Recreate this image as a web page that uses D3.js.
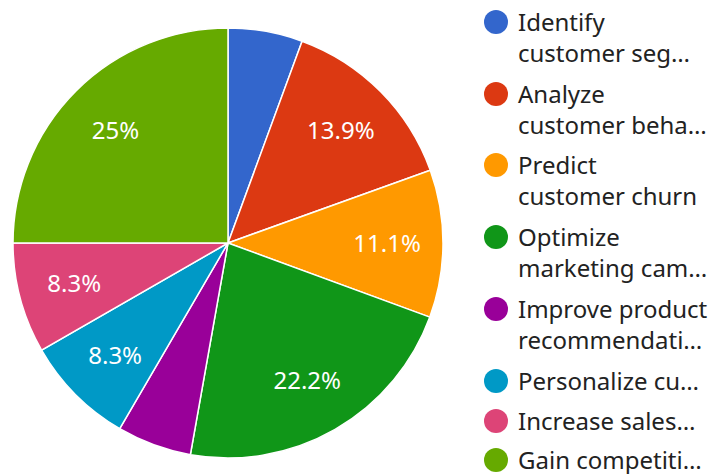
<!DOCTYPE html>
<html>
<head>
<meta charset="utf-8">
<script src="https://d3js.org/d3.v7.min.js"></script>
<style>
  body { margin: 0; background: #fff; }
  text { font-family: "Noto Sans", sans-serif; }
</style>
</head>
<body>
<svg id="chart" width="713" height="474"></svg>
<script>
// slice data (percent of responses)
var categories = [
  ["Identify", "customer seg\u2026"],
  ["Analyze", "customer beha\u2026"],
  ["Predict", "customer churn"],
  ["Optimize", "marketing cam\u2026"],
  ["Improve product", "recommendati\u2026"],
  ["Personalize cu\u2026"],
  ["Increase sales\u2026"],
  ["Gain competiti\u2026"]
];
var values = [5.6, 13.9, 11.1, 22.2, 5.6, 8.3, 8.3, 25];
var colors = ["#3366cc", "#dc3912", "#ff9900", "#109618", "#990099", "#0099c6", "#dd4477", "#66aa00"];

var svg = d3.select("#chart");
var cx = 228, cy = 243, radius = 215;

var pie = d3.pie().value(function(d) { return d; }).sort(null);
var arc = d3.arc().innerRadius(0).outerRadius(radius);
var labelArc = d3.arc().innerRadius(radius * 0.74).outerRadius(radius * 0.74);

var g = svg.append("g").attr("transform", "translate(" + cx + "," + cy + ")");
var arcs = pie(values);

g.selectAll("path.slice")
  .data(arcs)
  .enter().append("path")
  .attr("class", "slice")
  .attr("d", arc)
  .attr("fill", function(d, i) { return colors[i]; })
  .attr("stroke", "#fff")
  .attr("stroke-width", 1.5);

g.selectAll("text.lbl")
  .data(arcs.filter(function(d) { return d.data >= 7; }))
  .enter().append("text")
  .attr("class", "lbl")
  .attr("transform", function(d) { return "translate(" + labelArc.centroid(d) + ")"; })
  .attr("text-anchor", "middle")
  .attr("dy", "0.35em")
  .attr("fill", "#fff")
  .style("font-size", "24px")
  .text(function(d) { return d.data + "%"; });

// legend
var legendY = [31, 103, 174, 246, 318, 390, 430, 469];
var legend = svg.append("g");
var items = legend.selectAll("g.item")
  .data(categories)
  .enter().append("g")
  .attr("class", "item")
  .attr("transform", function(d, i) { return "translate(0," + legendY[i] + ")"; });

items.append("circle")
  .attr("cx", 496)
  .attr("cy", -9)
  .attr("r", 12)
  .attr("fill", function(d, i) { return colors[i]; });

items.append("text")
  .attr("x", 518)
  .attr("fill", "#222")
  .style("font-size", "24px")
  .selectAll("tspan")
  .data(function(d) { return d; })
  .enter().append("tspan")
  .attr("x", 518)
  .attr("dy", function(d, i) { return i === 0 ? 0 : 31; })
  .text(function(d) { return d; });
</script>
</body>
</html>
